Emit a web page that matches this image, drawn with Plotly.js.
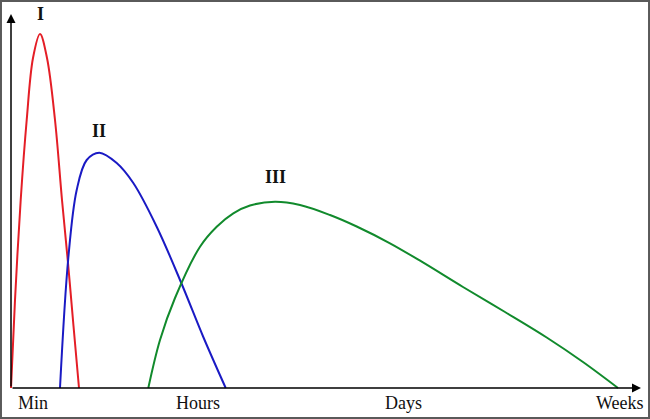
<!DOCTYPE html>
<html>
<head>
<meta charset="utf-8">
<script src="https://cdn.plot.ly/plotly-3.0.1.min.js"></script>
<style>html,body{margin:0;padding:0;background:#fff;}#chart{width:650px;height:419px;}</style>
</head>
<body>
<div id="chart"></div>
<script>
// Arbitrary units: time (x) vs response (y)
const phaseIx = [0, 4, 9.7, 15.7, 22, 29, 36, 44, 51, 57, 62.5, 68];
const phaseIy = [0, 88, 188, 268, 330, 354, 330, 268, 188, 125, 62, 0];

const phaseIIx = [49, 57.3, 65.7, 75.7, 88.3, 105.7, 122.3, 145.7, 170.7, 192.3, 214.7];
const phaseIIy = [0, 130, 198, 228, 235.3, 225, 205, 161.3, 104, 51, 0];

const phaseIIIx = [137.3, 149, 164, 189, 205.7, 222.3, 239, 264, 289, 319, 345.7, 379, 410.7, 452, 494, 535.7, 572, 607];
const phaseIIIy = [0, 48, 90, 141.3, 161.3, 174.7, 182.5, 186.3, 183, 173, 161.5, 144.7, 126.3, 101, 76, 50.5, 26, 0];

const phaseLabels = ['I', 'II', 'III'];
const phaseLabelX = [29, 88.3, 264];
const phaseLabelY = [374, 257, 211];

const tickLabels = ['Min', 'Hours', 'Days', 'Weeks'];
const tickX = [22, 187, 392.5, 609];
const tickY = -15;

const colors = ['#e41e26', '#1a1ac4', '#118a2c'];

const traces = [
  {x: phaseIx, y: phaseIy, mode: 'lines', line: {color: colors[0], width: 2, shape: 'spline', smoothing: 1}, hoverinfo: 'skip'},
  {x: phaseIIx, y: phaseIIy, mode: 'lines', line: {color: colors[1], width: 2, shape: 'spline', smoothing: 1}, hoverinfo: 'skip'},
  {x: phaseIIIx, y: phaseIIIy, mode: 'lines', line: {color: colors[2], width: 2, shape: 'spline', smoothing: 1}, hoverinfo: 'skip'}
];

const serif = '"Liberation Serif", "Times New Roman", serif';
const annotations = [];
phaseLabels.forEach((t, i) => annotations.push({
  x: phaseLabelX[i], y: phaseLabelY[i], xref: 'x', yref: 'y', text: '<b>' + t + '</b>',
  showarrow: false, font: {family: serif, size: 18, color: '#111'}
}));
tickLabels.forEach((t, i) => annotations.push({
  x: tickX[i], y: tickY, xref: 'x', yref: 'y', text: t,
  showarrow: false, font: {family: serif, size: 18, color: '#111'}
}));
// axis arrows
annotations.push({x: 0, y: 374, ax: 0, ay: 0, xref: 'x', yref: 'y', axref: 'x', ayref: 'y', text: '',
  showarrow: true, arrowhead: 2, arrowsize: 1.2, arrowwidth: 1.5, arrowcolor: '#000'});
annotations.push({x: 630, y: 0, ax: 0, ay: 0, xref: 'x', yref: 'y', axref: 'x', ayref: 'y', text: '',
  showarrow: true, arrowhead: 2, arrowsize: 1.2, arrowwidth: 1.5, arrowcolor: '#000'});

const layout = {
  width: 650, height: 419,
  margin: {l: 0, r: 0, t: 0, b: 0},
  paper_bgcolor: '#fff', plot_bgcolor: '#fff',
  showlegend: false,
  xaxis: {range: [-11, 639], visible: false, fixedrange: true},
  yaxis: {range: [-31, 388], visible: false, fixedrange: true},
  annotations: annotations,
  shapes: [
    {type: 'rect', xref: 'paper', yref: 'paper', x0: 0.0015, x1: 0.9985, y0: 0.0025, y1: 0.9975,
     line: {color: '#5a5a5a', width: 2}}
  ]
};

Plotly.newPlot('chart', traces, layout, {staticPlot: true, displayModeBar: false});
</script>
</body>
</html>
